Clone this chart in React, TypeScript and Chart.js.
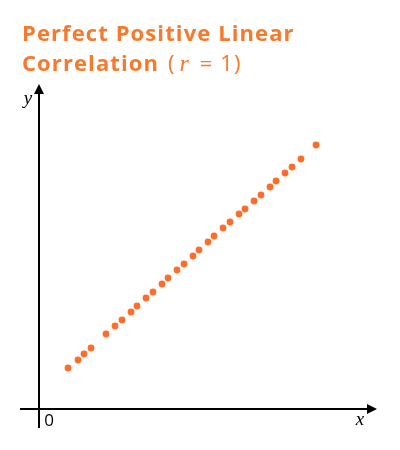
import { useEffect, useRef } from 'react';
import { Chart, registerables, Plugin } from 'chart.js';

Chart.register(...registerables);

// point positions (origin at the axes crossing)
const xValues = [
  2.9, 3.9, 4.5, 5.2, 6.7, 7.6, 8.3, 9.2, 9.8, 10.7, 11.4, 12.3, 12.9, 13.8, 14.5, 15.4,
  16.0, 16.9, 17.5, 18.4, 19.1, 20.0, 20.6, 21.5, 22.2, 23.1, 23.7, 24.6, 25.3, 26.2, 27.7,
];
const yValues = [
  4.1, 4.9, 5.5, 6.1, 7.5, 8.3, 8.9, 9.7, 10.3, 11.1, 11.7, 12.5, 13.1, 13.9, 14.5, 15.3,
  15.9, 16.7, 17.3, 18.1, 18.7, 19.5, 20.0, 20.8, 21.4, 22.2, 22.8, 23.6, 24.2, 25.0, 26.4,
];
const originLabel = '0';
const xAxisLabel = 'x';
const yAxisLabel = 'y';

const ORANGE = '#f7792b';
const DOT = '#ff6d2a';

const axesPlugin: Plugin<'scatter'> = {
  id: 'arrowAxes',
  afterDatasetsDraw(chart) {
    const { ctx, scales } = chart;
    const x0 = scales.x.getPixelForValue(0);
    const y0 = scales.y.getPixelForValue(0);
    const xLeft = scales.x.getPixelForValue(-1.9);
    const xTip = scales.x.getPixelForValue(33.8);
    const yBottom = scales.y.getPixelForValue(-1.9);
    const yTip = scales.y.getPixelForValue(32.5);

    ctx.save();
    ctx.strokeStyle = '#000';
    ctx.fillStyle = '#000';
    ctx.lineWidth = 2;

    ctx.beginPath();
    ctx.moveTo(xLeft, y0);
    ctx.lineTo(xTip - 6, y0);
    ctx.moveTo(x0, yBottom);
    ctx.lineTo(x0, yTip + 6);
    ctx.stroke();

    ctx.beginPath();
    ctx.moveTo(xTip, y0);
    ctx.lineTo(xTip - 10, y0 - 5);
    ctx.lineTo(xTip - 10, y0 + 5);
    ctx.closePath();
    ctx.fill();

    ctx.beginPath();
    ctx.moveTo(x0, yTip);
    ctx.lineTo(x0 - 5, yTip + 10);
    ctx.lineTo(x0 + 5, yTip + 10);
    ctx.closePath();
    ctx.fill();

    ctx.textAlign = 'center';
    ctx.textBaseline = 'middle';
    ctx.font = '17px "Open Sans", sans-serif';
    ctx.fillText(originLabel, x0 + 10, y0 + 12);

    ctx.font = 'italic 19px "Liberation Serif", serif';
    ctx.fillText(xAxisLabel, xTip - 17, y0 + 11);
    ctx.fillText(yAxisLabel, x0 - 11, yTip + 15);
    ctx.restore();
  },
};

export default function App() {
  const canvasRef = useRef<HTMLCanvasElement | null>(null);
  const chartRef = useRef<Chart<'scatter'> | null>(null);

  useEffect(() => {
    document.body.style.margin = '0';
    if (!canvasRef.current) return;
    if (chartRef.current) chartRef.current.destroy();

    chartRef.current = new Chart(canvasRef.current, {
      type: 'scatter',
      data: {
        datasets: [
          {
            data: xValues.map((x, i) => ({ x, y: yValues[i] })),
            backgroundColor: DOT,
            borderWidth: 0,
            pointRadius: 3.4,
          },
        ],
      },
      options: {
        animation: false,
        responsive: true,
        maintainAspectRatio: false,
        layout: { padding: { left: 19, right: 21, top: 80, bottom: 20 } },
        plugins: {
          legend: { display: false },
          tooltip: { enabled: false },
        },
        scales: {
          x: { type: 'linear', min: -2, max: 34, display: false },
          y: { type: 'linear', min: -2.1, max: 32.9, display: false },
        },
      },
      plugins: [axesPlugin],
    });

    return () => {
      if (chartRef.current) {
        chartRef.current.destroy();
        chartRef.current = null;
      }
    };
  }, []);

  return (
    <div style={{ position: 'relative', width: 400, height: 450, background: '#fff' }}>
      <div
        style={{
          position: 'absolute',
          left: 22,
          top: 17,
          color: ORANGE,
          fontFamily: '"Open Sans", sans-serif',
          fontWeight: 700,
          fontSize: 22,
          lineHeight: '30px',
          letterSpacing: '1.1px',
          whiteSpace: 'nowrap',
        }}
      >
        <div>Perfect Positive Linear</div>
        <div>
          Correlation <span style={{ fontWeight: 400, marginLeft: 2 }}>(</span>
          <span
            style={{
              fontFamily: '"Liberation Serif", serif',
              fontStyle: 'italic',
              fontWeight: 400,
              fontSize: 24,
              margin: '0 3px 0 4px',
            }}
          >
            r
          </span>
          <span style={{ fontWeight: 400 }}> = 1)</span>
        </div>
      </div>
      <canvas ref={canvasRef} />
    </div>
  );
}
